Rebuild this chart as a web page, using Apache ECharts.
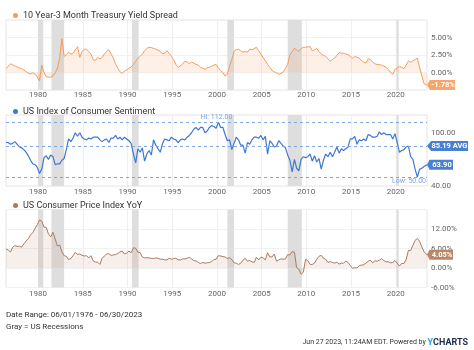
<!DOCTYPE html>
<html>
<head>
<meta charset="utf-8">
<script src="https://cdn.jsdelivr.net/npm/echarts@6/dist/echarts.min.js"></script>
<style>
  html, body { margin: 0; padding: 0; background: #fff; }
  #chart { width: 474px; height: 350px; }
</style>
</head>
<body>
<div id="chart"></div>
<script>
// quarterly samples, Jun 1976 .. Jun 2023
const dates = []
for (let y = 1976; y <= 2023; y++) {
  for (const m of ['03', '06', '09', '12']) {
    const d = y + '-' + m + '-01'
    if (d >= '1976-06-01' && d <= '2023-06-01') dates.push(d)
  }
}
dates[dates.length - 1] = '2023-06-30'

const axisStart = '1976-06-01'
const axisEnd = '2023-06-30'
const yearTicks = ['1980', '1985', '1990', '1995', '2000', '2005', '2010', '2015', '2020']

const recessions = [
  ['1980-01-01', '1980-07-31'],
  ['1981-07-01', '1982-11-30'],
  ['1990-07-01', '1991-03-31'],
  ['2001-03-01', '2001-11-30'],
  ['2007-12-01', '2009-06-30'],
  ['2020-02-01', '2020-04-30']
]

// 10 Year - 3 Month spread, %
const spread = [
  0.55, 0.9, 1.25,
  1.1, 0.95, 0.8, 0.65,
  0.55, 0.35, 0.1, -0.1,
  -0.2, -0.05, -0.25, -0.65,
  -1.2, 1.05, 0.0, -0.6,
  -0.65, -0.7, -0.5, -0.05,
  0.65, 2.05, 4.85, 2.3,
  2.55, 2.9, 2.65, 2.75,
  3.25, 3.7, 2.15, 3.0,
  3.3, 3.35, 3.0, 2.65,
  1.85, 1.7, 2.15, 1.95,
  2.15, 2.65, 3.0, 3.25,
  2.65, 2.05, 1.25, 0.6,
  0.1, -0.15, 0.2, 0.4,
  0.6, 0.8, 1.15, 1.6,
  2.05, 2.3, 2.65, 3.1,
  3.45, 3.6, 3.55, 3.45,
  3.35, 3.2, 3.0, 2.65,
  2.75, 3.1, 2.75, 2.3,
  1.85, 1.15, 0.75, 0.9,
  1.25, 1.6, 1.5, 1.25,
  1.5, 1.35, 1.15, 1.05,
  0.75, 0.6, 0.45, 0.65,
  0.75, 0.9, 1.05, 1.15,
  0.6, 0.3, 0.0, -0.5,
  -0.25, 0.9, 1.85, 3.0,
  3.25, 3.35, 3.1, 2.9,
  3.0, 2.9, 3.35, 3.25,
  3.4, 3.6, 3.1, 2.65,
  2.15, 1.7, 1.15, 0.75,
  0.3, 0.1, -0.05, -0.25,
  -0.15, 0.05, 0.6, 1.15,
  2.55, 3.0, 3.45, 3.25,
  3.0, 3.45, 3.6, 3.6,
  3.65, 3.7, 3.1, 3.25,
  3.45, 3.0, 2.65, 2.45,
  2.3, 1.95, 1.6, 1.85,
  2.05, 2.45, 2.85, 2.75,
  2.75, 2.65, 2.55, 2.3,
  2.05, 2.3, 2.15, 2.05,
  1.7, 1.5, 1.35, 1.95,
  1.85, 1.5, 1.25, 1.15,
  1.15, 1.05, 0.9, 0.75,
  0.45, 0.0, -0.25, 0.45,
  0.65, 0.85, 0.75, 0.55,
  1.05, 1.65, 1.45, 1.65,
  1.85, 2.05, 0.75, -0.5,
  -1.6, -1.78
]

// US Index of Consumer Sentiment
const sentiment = [
  89, 89, 87,
  88, 90, 87, 84,
  83, 81, 78, 74,
  69, 65, 64, 61,
  54, 59, 72, 74,
  70, 75, 73, 64,
  65, 65, 69, 71,
  81, 93, 90, 94,
  100, 96, 100, 95,
  93, 92, 94, 93,
  95, 95, 95, 92,
  90, 92, 93, 89,
  94, 94, 97, 93,
  95, 92, 95, 93,
  91, 88, 76, 66,
  82, 78, 83, 68,
  76, 80, 75, 92,
  86, 82, 78, 88,
  93, 92, 91, 95,
  93, 92, 89, 92,
  93, 92, 95, 97,
  100, 104, 106, 103,
  106, 106, 100, 102,
  106, 108, 107, 105,
  112, 106, 106, 98,
  91, 92, 81, 88,
  95, 92, 86, 86,
  77, 89, 87, 92,
  95, 95, 94, 97,
  92, 96, 76, 91,
  88, 84, 85, 91,
  88, 85, 83, 75,
  69, 56, 70, 60,
  57, 70, 73, 72,
  73, 76, 68, 74,
  67, 71, 59, 69,
  76, 73, 78, 73,
  78, 84, 77, 82,
  80, 82, 84, 93,
  93, 96, 87, 92,
  91, 93, 91, 98,
  97, 95, 95, 96,
  101, 98, 100, 98,
  98, 98, 93, 99,
  89, 78, 80, 81,
  84, 85, 73, 70,
  59, 50, 59, 60,
  62, 63.9
]
const sentimentAvg = 85.19

// US Consumer Price Index YoY, %
const cpi = [
  5.9, 5.5, 4.9,
  6.4, 6.9, 6.6, 6.7,
  6.4, 7.4, 8.3, 9.0,
  10.2, 10.9, 12.2, 13.3,
  14.8, 14.4, 12.6, 12.5,
  10.5, 9.6, 11.0, 8.9,
  6.8, 7.1, 5.0, 3.8,
  3.6, 2.6, 2.9, 3.8,
  4.8, 4.2, 4.3, 3.9,
  3.7, 3.8, 3.1, 3.8,
  2.2, 1.8, 1.8, 1.1,
  3.0, 3.7, 4.3, 4.4,
  3.9, 4.0, 4.2, 4.4,
  5.0, 5.2, 4.3, 4.6,
  5.2, 4.7, 6.2, 6.1,
  4.9, 4.7, 3.4, 3.1,
  3.2, 3.1, 3.0, 2.9,
  3.1, 3.0, 2.7, 2.7,
  2.5, 2.5, 3.0, 2.7,
  2.9, 3.0, 2.5, 2.5,
  2.8, 2.8, 3.0, 3.3,
  2.8, 2.3, 2.2, 1.7,
  1.4, 1.7, 1.5, 1.6,
  1.7, 2.0, 2.6, 2.7,
  3.8, 3.7, 3.5, 3.4,
  2.9, 3.2, 2.6, 1.6,
  1.5, 1.1, 1.5, 2.4,
  3.0, 2.1, 2.3, 1.9,
  1.7, 3.3, 2.5, 3.3,
  3.1, 2.5, 4.7, 3.4,
  3.4, 4.3, 2.1, 2.5,
  2.8, 2.7, 2.8, 4.1,
  4.0, 5.0, 4.9, 0.1,
  -0.4, -1.9, -1.3, 2.7,
  2.3, 1.1, 1.1, 1.5,
  2.7, 3.6, 3.9, 3.0,
  2.7, 1.7, 2.0, 1.7,
  1.5, 1.8, 1.2, 1.5,
  1.5, 2.1, 1.7, 0.8,
  -0.1, 0.1, 0.0, 0.7,
  0.9, 1.0, 1.5, 2.1,
  2.4, 1.6, 2.2, 2.1,
  2.4, 2.9, 2.3, 1.9,
  1.9, 1.6, 1.7, 2.3,
  1.5, 0.6, 1.4, 1.4,
  2.6, 5.4, 5.4, 7.0,
  8.5, 9.1, 8.2, 6.5,
  5.0, 4.05
]

const spreadTicks = [0, 2.5, 5]
const sentimentTicks = [40, 100]
const cpiTicks = [-6, 0, 6, 12]

const names = ['10 Year-3 Month Treasury Yield Spread', 'US Index of Consumer Sentiment', 'US Consumer Price Index YoY']
const colors = ['#f59c5c', '#3f78d2', '#a87b60']

const chart = echarts.init(document.getElementById('chart'))

// x is a plain value axis of UTC timestamps
const ts = d => Date.parse(d)
const pairs = (vals) => dates.map((d, i) => [ts(d), vals[i]])
const last = dates.length - 1
const tickTimes = yearTicks.map(y => ts(y + '-01-01'))

const tagPath = 'path://M0,5L4,0L40,0L40,10L4,10Z'
const tag = (value, text, color, w) => ({
  coord: [ts(dates[last]), value],
  value: value,
  symbol: tagPath,
  symbolSize: [w, 10],
  symbolOffset: [w / 2, 0],
  itemStyle: { color: color },
  label: {
    show: true,
    position: 'inside',
    offset: [2, 0],
    formatter: text,
    color: '#fff',
    fontSize: 7.5,
    fontWeight: 'bold'
  }
})

const bands = {
  silent: true,
  itemStyle: { color: '#dedede' },
  data: recessions.map(r => [{ xAxis: ts(r[0]) }, { xAxis: ts(r[1]) }])
}

const xAxes = [0, 1, 2].map(i => ({
  type: 'value',
  gridIndex: i,
  min: ts(axisStart),
  max: ts(axisEnd),
  axisLine: { show: false },
  axisTick: { show: false, customValues: tickTimes },
  splitLine: { show: true, lineStyle: { color: '#efefef' } },
  axisLabel: {
    customValues: tickTimes,
    formatter: v => String(new Date(v).getUTCFullYear()),
    color: '#666', fontSize: 8, margin: i === 0 ? 1 : 2
  }
}))

const yAxisBase = {
  position: 'right',
  axisLine: { show: false },
  axisTick: { show: false },
  splitLine: { show: true, lineStyle: { color: '#f1f1f1' } }
}

const yLabel = (fmt) => ({
  color: '#666', fontSize: 8, margin: 4,
  padding: [0, 0, 4, 0],
  formatter: fmt
})

const legendAt = (i, top) => ({
  left: 8,
  top: top,
  data: [names[i]],
  icon: 'circle',
  itemWidth: 5,
  itemHeight: 5,
  itemGap: 4,
  selectedMode: false,
  textStyle: { color: '#333', fontSize: 9 }
})

const option = {
  animation: false,
  textStyle: { fontFamily: 'Roboto' },
  legend: [legendAt(0, 6), legendAt(1, 102), legendAt(2, 196)],
  grid: [
    { left: 6, right: 47, top: 20, height: 70, show: true, borderColor: '#e4e4e4' },
    { left: 6, right: 47, top: 115, height: 71, show: true, borderColor: '#e4e4e4' },
    { left: 6, right: 47, top: 209.5, height: 78, show: true, borderColor: '#e4e4e4' }
  ],
  xAxis: xAxes,
  yAxis: [
    Object.assign({}, yAxisBase, {
      gridIndex: 0, min: -2.5, max: 7.5, interval: 2.5,
      axisLabel: yLabel(v => spreadTicks.includes(v) ? v.toFixed(2) + '%' : '')
    }),
    Object.assign({}, yAxisBase, {
      gridIndex: 1, min: 40, max: 120, interval: 20,
      splitLine: { show: false },
      axisLabel: yLabel(v => sentimentTicks.includes(v) ? v.toFixed(2) : '')
    }),
    Object.assign({}, yAxisBase, {
      gridIndex: 2, min: -6, max: 18, interval: 6,
      axisLabel: yLabel(v => cpiTicks.includes(v) ? v.toFixed(2) + '%' : '')
    })
  ],
  series: [
    {
      name: names[0],
      type: 'line',
      xAxisIndex: 0,
      yAxisIndex: 0,
      data: pairs(spread),
      symbol: 'none',
      color: colors[0],
      lineStyle: { width: 1, color: colors[0] },
      areaStyle: { color: 'rgba(247,160,100,0.22)' },
      markArea: bands,
      markPoint: { data: [tag(spread[last], spread[last].toFixed(2) + '%', '#f7a56b', 28)] }
    },
    {
      name: names[1],
      type: 'line',
      xAxisIndex: 1,
      yAxisIndex: 1,
      data: pairs(sentiment),
      symbol: 'none',
      color: colors[1],
      lineStyle: { width: 1.2, color: colors[1] },
      markArea: bands,
      markLine: {
        silent: true,
        symbol: 'none',
        lineStyle: { color: '#7ea6e3', type: [3, 3], width: 1 },
        data: [
          {
            type: 'max',
            label: {
              position: 'insideMiddleTop', color: '#7ea6e3', fontSize: 7, distance: 1,
              formatter: p => 'Hi: ' + p.value.toFixed(2)
            }
          },
          {
            type: 'min',
            label: {
              position: 'insideEndBottom', color: '#7ea6e3', fontSize: 7, distance: 1,
              formatter: p => 'Low: ' + p.value.toFixed(2)
            }
          },
          { yAxis: sentimentAvg, label: { show: false } }
        ]
      },
      markPoint: {
        data: [
          tag(sentimentAvg, sentimentAvg.toFixed(2) + ' AVG', '#4a80d3', 41),
          tag(sentiment[last], sentiment[last].toFixed(2), '#4a80d3', 26)
        ]
      }
    },
    {
      name: names[2],
      type: 'line',
      xAxisIndex: 2,
      yAxisIndex: 2,
      data: pairs(cpi),
      symbol: 'none',
      color: colors[2],
      lineStyle: { width: 1, color: colors[2] },
      areaStyle: { color: 'rgba(190,140,110,0.2)' },
      markArea: bands,
      markPoint: { data: [tag(cpi[last], cpi[last].toFixed(2) + '%', '#b9886b', 26)] }
    }
  ],
  graphic: [
    { type: 'text', left: 6, top: 311, style: { text: 'Date Range: 06/01/1976 - 06/30/2023', fontSize: 8, fill: '#333', fontFamily: 'Roboto' } },
    { type: 'text', left: 6, top: 323, style: { text: 'Gray = US Recessions', fontSize: 8, fill: '#333', fontFamily: 'Roboto' } },
    {
      type: 'text', right: 6, top: 338,
      style: {
        text: '{a|Jun 27 2023, 11:24AM EDT. Powered by }{y|Y}{c|CHARTS}',
        fontFamily: 'Roboto',
        rich: {
          a: { fontSize: 7, fill: '#333', fontFamily: 'Roboto' },
          y: { fontSize: 9, fontWeight: 'bold', fill: '#2e9fe0', fontFamily: 'Roboto' },
          c: { fontSize: 9, fontWeight: 'bold', fill: '#1c2d4d', fontFamily: 'Roboto' }
        }
      }
    }
  ]
}

chart.setOption(option)
</script>
</body>
</html>
